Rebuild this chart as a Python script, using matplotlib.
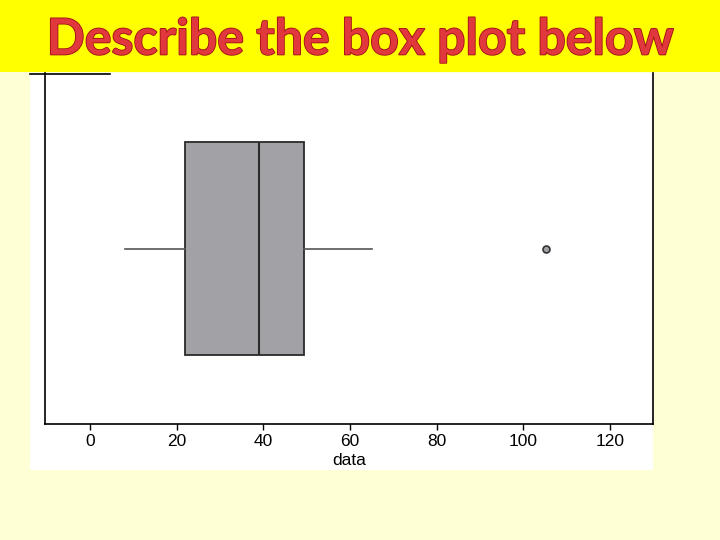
import matplotlib
matplotlib.use("Agg")
import matplotlib.pyplot as plt
import matplotlib.patheffects as pe
from matplotlib.patches import Rectangle

title = "Describe the box plot below"
x_label = "data"
x_ticks = [0, 20, 40, 60, 80, 100, 120]

# five number summary, plus the outlier
whisker_low = 8
q1 = 22
median = 39
q3 = 49.3
whisker_high = 65
outliers = [105.3]

fig = plt.figure(figsize=(7.2, 5.4), dpi=100)
fig.patch.set_facecolor("#FFFFD5")

# yellow title band and white chart panel (behind the axes)
fig.patches.append(Rectangle((0, 1 - 72 / 540), 1, 72 / 540, transform=fig.transFigure,
                             facecolor="#FFFF00", edgecolor="none", zorder=-2))
fig.patches.append(Rectangle((30 / 720, 1 - 470 / 540), 623 / 720, 397 / 540, transform=fig.transFigure,
                             facecolor="white", edgecolor="none", zorder=-2))
fig.add_artist(plt.Line2D([30 / 720, 110 / 720], [1 - 73.5 / 540] * 2, transform=fig.transFigure,
                          color="black", lw=1.2, zorder=5))

fig.text(0.5, 1 - 40 / 540, title, ha="center", va="center", fontsize=36,
         fontweight="bold", family="Lato", color="#E0383C",
         path_effects=[pe.withStroke(linewidth=1.2, foreground="#A01010")])

ax = fig.add_axes([45 / 720, 1 - 424 / 540, 608 / 720, 351 / 540])
ax.set_zorder(1)
ax.set_facecolor("white")

stats = [{"whislo": whisker_low, "q1": q1, "med": median, "q3": q3,
          "whishi": whisker_high, "fliers": outliers}]
ax.bxp(stats, positions=[1], widths=0.604, vert=False, patch_artist=True,
       showcaps=False,
       boxprops=dict(facecolor="#A2A1A6", edgecolor="#2a2a2a", lw=1.3),
       medianprops=dict(color="#2a2a2a", lw=1.5),
       whiskerprops=dict(color="#555555", lw=1.2),
       flierprops=dict(marker="o", markersize=5, markerfacecolor="#A2A1A6",
                       markeredgecolor="#333333", markeredgewidth=1.2))

ax.set_xlim(-10.4, 129.9)
ax.set_ylim(0.5, 1.5)
ax.set_yticks([])
ax.set_xticks(x_ticks)
ax.set_xticklabels([str(t) for t in x_ticks], family="Liberation Sans", fontsize=12.5)
ax.tick_params(axis="x", length=4, width=1, pad=3)
ax.set_xlabel(x_label, family="Liberation Sans", fontsize=12.5, labelpad=3)
ax.spines["top"].set_visible(False)
for s in ["left", "right", "bottom"]:
    ax.spines[s].set_linewidth(1.2)

fig.savefig("out.png", dpi=100, facecolor=fig.get_facecolor())
